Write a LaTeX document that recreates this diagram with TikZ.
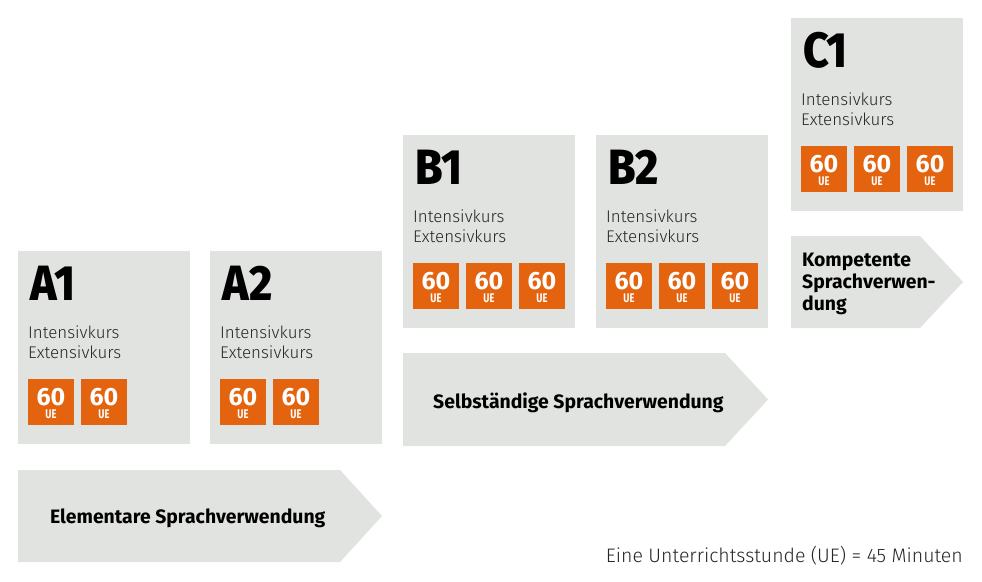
\documentclass[tikz,border=0pt]{standalone}
\usepackage{fontspec}
\setmainfont{Fira Sans}
\newfontfamily\lightf{Fira Sans Light}
\newfontfamily\condbold{Fira Sans ExtraBold}[FakeStretch=0.9]
\newfontfamily\uebold{Fira Sans Bold}[FakeStretch=0.75]
\newfontfamily\boldf{Fira Sans Bold}
\definecolor{boxgrey}{RGB}{225,227,224}
\definecolor{ueorange}{RGB}{228,99,14}
\tikzset{
  levelbox/.style={fill=boxgrey, minimum width=172pt, minimum height=193pt, anchor=north west, inner sep=0pt, outer sep=0pt},
  uebox/.style={fill=ueorange, minimum width=46pt, minimum height=46pt, anchor=north west, inner sep=0pt, outer sep=0pt},
  levellabel/.style={anchor=base west, inner sep=0pt, font=\condbold\fontsize{49.5}{50}\selectfont},
  courselabel/.style={anchor=base west, inner sep=0pt, text=black!85, font=\lightf\fontsize{16.9}{20}\selectfont},
  uelabel/.style={anchor=center, inner sep=0pt, align=center, text=white, font=\uebold\fontsize{12.5}{13}\selectfont},
  stagearrow/.style={fill=boxgrey},
  stagelabel/.style={anchor=base west, inner sep=0pt, font=\boldf\fontsize{19.4}{22}\selectfont},
  notelabel/.style={anchor=base east, inner sep=0pt, text=black!85, font=\lightf\fontsize{19.5}{22}\selectfont}
}
\newcommand\levelblock[5]{%
  \node[levelbox] (#1) at (#2,#3) {};
  \node[levellabel] (#1-title) at (#2+12,#3+49) {#4};
  \node[courselabel] (#1-int) at (#2+10,#3+87) {Intensivkurs};
  \node[courselabel] (#1-ext) at (#2+10,#3+107) {Extensivkurs};
  \foreach \i in {1,...,#5} {
    \node[uebox] (#1-ue\i) at ({#2+10+53*(\i-1)},#3+128) {};
    \node[uelabel] (#1-num\i) at ({#2+33+53*(\i-1)},#3+152.3) {{\boldf\fontsize{25}{25}\selectfont 60}\\UE};
  }%
}
\begin{document}
\begin{tikzpicture}[x=1pt,y=-1pt]
  \useasboundingbox[fill=white] (0,0) rectangle (982,581);
  \levelblock{A1}{18}{251}{A1}{2}
  \levelblock{A2}{210}{251}{A2}{2}
  \levelblock{B1}{403}{135}{B1}{3}
  \levelblock{B2}{596}{135}{B2}{3}
  \levelblock{C1}{791}{18}{C1}{3}
  % stage arrows
  \path[stagearrow] (18,470) -- (340,470) -- (382,516) -- (340,562) -- (18,562) -- cycle;
  \node[stagelabel] (elem) at (50,523) {Elementare Sprachverwendung};
  \path[stagearrow] (403,353) -- (725,353) -- (768,399.5) -- (725,446) -- (403,446) -- cycle;
  \node[stagelabel] (selb) at (433,408) {Selbständige Sprachverwendung};
  \path[stagearrow] (791,236) -- (920,236) -- (963,282) -- (920,328) -- (791,328) -- cycle;
  \node[stagelabel] (komp1) at (802,266) {Kompetente};
  \node[stagelabel] (komp2) at (802,288) {Sprachverwen-};
  \node[stagelabel] (komp3) at (802,310) {dung};
  \node[notelabel] (note) at (963,562) {Eine Unterrichtsstunde (UE) = 45 Minuten};
\end{tikzpicture}
\end{document}
